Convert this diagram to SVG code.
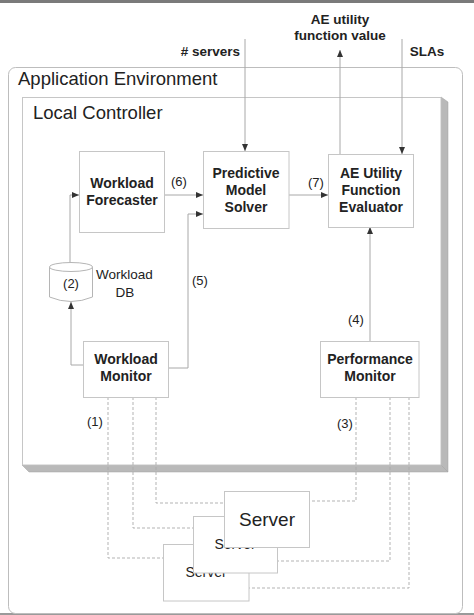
<svg xmlns="http://www.w3.org/2000/svg" width="474" height="615" viewBox="0 0 474 615">
<style>
text{font-family:"Liberation Sans",Arial,sans-serif;fill:#222}
.b{font-weight:bold;font-size:14px;text-anchor:middle}
.n{font-size:13px}
.box{fill:#fff;stroke:#c6c6c6;stroke-width:1}
.ln{fill:none;stroke:#a8a8a8;stroke-width:1}
.ar{marker-end:url(#ah)}
.ds{fill:none;stroke:#aaa;stroke-width:0.9;stroke-dasharray:3,2}
</style>
<defs>
<marker id="ah" viewBox="0 0 7 6" refX="7" refY="3" markerWidth="7" markerHeight="6" markerUnits="userSpaceOnUse" orient="auto">
<path d="M0,0 L7,3 L0,6 z" fill="#333"/>
</marker>
</defs>
<rect x="0" y="0" width="474" height="615" fill="#fff"/>
<rect x="0" y="0" width="474" height="3" fill="#7a7a7a"/>
<rect x="0" y="613" width="474" height="2" fill="#9a9a9a"/>

<g id="app-env">
<rect x="8.5" y="67.5" width="454" height="546" rx="7" fill="#fff" stroke="#bdbdbd"/>
<text x="18" y="85" style="font-size:18.5px">Application Environment</text>
</g>

<g id="local-controller">
<polygon points="441,97 448,102 448,472 441,465" fill="#b9b9b9" stroke="#a0a0a0" stroke-width="0.5"/>
<polygon points="22,465 441,465 448,472 29,472" fill="#b9b9b9" stroke="#a0a0a0" stroke-width="0.5"/>
<rect x="22.5" y="97.5" width="418.5" height="367.5" fill="#fff" stroke="#c6c6c6"/>
<text x="33" y="119" style="font-size:18.5px">Local Controller</text>
</g>

<g id="external-labels">
<text x="240" y="56" class="b" style="font-size:13.5px;text-anchor:end"># servers</text>
<text x="340" y="24" class="b" style="font-size:13.5px">AE utility</text>
<text x="340" y="40" class="b" style="font-size:13.5px">function value</text>
<text x="427" y="56" class="b" style="font-size:13.5px">SLAs</text>
</g>

<g id="connectors">
<path class="ln ar" d="M245,39 V151"/>
<path class="ln ar" d="M340,154 V50"/>
<path class="ln ar" d="M402,39 V154"/>
<path class="ln ar" d="M165,195 H203"/>
<path class="ln ar" d="M289,195 H328"/>
<path class="ln ar" d="M70,262 V195 H79"/>
<path class="ln ar" d="M168,368 H188 V214 H203"/>
<path class="ln ar" d="M83,365 H71 V302"/>
<path class="ln ar" d="M370,341 V227"/>
<path class="ds" d="M108,397 V558 H163"/>
<path class="ds" d="M133,397 V528 H193"/>
<path class="ds" d="M156,397 V503 H224"/>
<path class="ds" d="M356,397 V501 H309"/>
<path class="ds" d="M390,397 V561 H277"/>
<path class="ds" d="M409,397 V588 H249"/>
<text x="171" y="186" class="n">(6)</text>
<text x="308" y="187" class="n">(7)</text>
<text x="192" y="285" class="n">(5)</text>
<text x="348" y="324" class="n">(4)</text>
<text x="87" y="426" class="n">(1)</text>
<text x="337" y="428" class="n">(3)</text>
</g>

<g id="workload-forecaster">
<rect class="box" x="79.5" y="151.5" width="85" height="81"/>
<text x="122" y="188" class="b">Workload</text>
<text x="122" y="205" class="b">Forecaster</text>
</g>

<g id="predictive-model-solver">
<rect class="box" x="203.5" y="151.5" width="85.5" height="77"/>
<text x="246" y="178" class="b">Predictive</text>
<text x="246" y="195" class="b">Model</text>
<text x="246" y="212" class="b">Solver</text>
</g>

<g id="ae-utility-evaluator">
<rect class="box" x="328.5" y="154.5" width="85" height="73"/>
<text x="371" y="178" class="b">AE Utility</text>
<text x="371" y="195" class="b">Function</text>
<text x="371" y="212" class="b">Evaluator</text>
</g>

<g id="workload-db">
<path d="M49.5,267 V297 Q71,306 92.5,297 V267" fill="#fff" stroke="#b5b5b5"/>
<ellipse cx="71" cy="267" rx="21.5" ry="4.5" fill="#fff" stroke="#b5b5b5"/>
<text x="71" y="288" class="n" style="text-anchor:middle">(2)</text>
<text x="96" y="279" style="font-size:13.5px">Workload</text>
<text x="125" y="297" style="font-size:13.5px;text-anchor:middle">DB</text>
</g>

<g id="workload-monitor">
<rect class="box" x="83.5" y="341.5" width="85" height="56"/>
<text x="126" y="364" class="b">Workload</text>
<text x="126" y="381" class="b">Monitor</text>
</g>

<g id="performance-monitor">
<rect class="box" x="320.5" y="341.5" width="98.5" height="56"/>
<text x="370" y="364" class="b">Performance</text>
<text x="370" y="381" class="b">Monitor</text>
</g>

<g id="server-3">
<rect class="box" x="163.5" y="544.5" width="85.5" height="56.5"/>
<text x="206" y="577" style="font-size:14px;text-anchor:middle">Server</text>
</g>
<g id="server-2">
<rect class="box" x="193.5" y="516.5" width="84" height="56.5"/>
<text x="235" y="549" style="font-size:14px;text-anchor:middle">Server</text>
</g>
<g id="server-1">
<rect class="box" x="224.5" y="491.5" width="85" height="56"/>
<text x="267" y="526" style="font-size:19px;text-anchor:middle">Server</text>
</g>
</svg>
